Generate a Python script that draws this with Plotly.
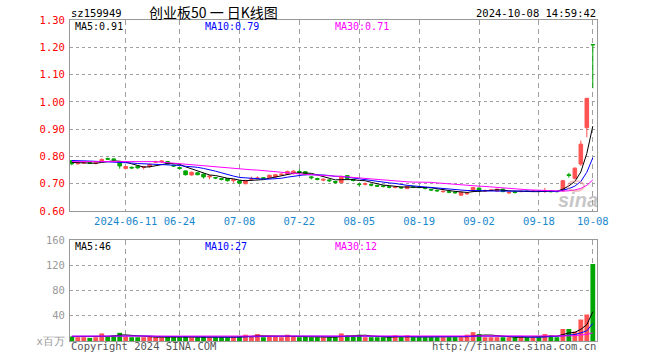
import plotly.graph_objects as go

# ---------------- data ----------------
dates = [
    "2024-05-28", "2024-05-29", "2024-05-30", "2024-05-31",
    "2024-06-03", "2024-06-04", "2024-06-05", "2024-06-06", "2024-06-07",
    "2024-06-11", "2024-06-12", "2024-06-13", "2024-06-14",
    "2024-06-17", "2024-06-18", "2024-06-19", "2024-06-20", "2024-06-21",
    "2024-06-24", "2024-06-25", "2024-06-26", "2024-06-27", "2024-06-28",
    "2024-07-01", "2024-07-02", "2024-07-03", "2024-07-04", "2024-07-05",
    "2024-07-08", "2024-07-09", "2024-07-10", "2024-07-11", "2024-07-12",
    "2024-07-15", "2024-07-16", "2024-07-17", "2024-07-18", "2024-07-19",
    "2024-07-22", "2024-07-23", "2024-07-24", "2024-07-25", "2024-07-26",
    "2024-07-29", "2024-07-30", "2024-07-31", "2024-08-01", "2024-08-02",
    "2024-08-05", "2024-08-06", "2024-08-07", "2024-08-08", "2024-08-09",
    "2024-08-12", "2024-08-13", "2024-08-14", "2024-08-15", "2024-08-16",
    "2024-08-19", "2024-08-20", "2024-08-21", "2024-08-22", "2024-08-23",
    "2024-08-26", "2024-08-27", "2024-08-28", "2024-08-29", "2024-08-30",
    "2024-09-02", "2024-09-03", "2024-09-04", "2024-09-05", "2024-09-06",
    "2024-09-09", "2024-09-10", "2024-09-11", "2024-09-12", "2024-09-13",
    "2024-09-18", "2024-09-19", "2024-09-20",
    "2024-09-23", "2024-09-24", "2024-09-25", "2024-09-26", "2024-09-27",
    "2024-09-30", "2024-10-08",
]

opens = [
    .784, .773, .776, .777, .774, .781, .792, .791, .782, .756,
    .760, .764, .760, .763, .779, .780, .781, .768, .759, .747,
    .732, .740, .735, .725, .723, .719, .719, .711, .710, .700,
    .716, .719, .722, .722, .725, .733, .735, .737, .745, .744,
    .725, .719, .713, .714, .708, .704, .730, .716, .699, .698,
    .697, .694, .692, .689, .686, .687, .682, .690, .688, .685,
    .679, .676, .671, .671, .669, .658, .663, .673, .684, .673,
    .675, .673, .680, .666, .670, .671, .673, .672, .673, .672,
    .673, .672, .674, .733, .720, .772, .905, 1.210,
]
highs = [
    .786, .777, .779, .779, .778, .793, .796, .793, .783, .765,
    .763, .766, .764, .773, .784, .786, .783, .770, .761, .748,
    .744, .742, .737, .731, .725, .721, .720, .717, .712, .714,
    .726, .727, .724, .733, .735, .737, .748, .750, .753, .745,
    .728, .722, .720, .716, .710, .729, .731, .717, .702, .705,
    .699, .696, .694, .691, .692, .689, .692, .691, .690, .687,
    .681, .678, .676, .673, .671, .670, .669, .687, .686, .679,
    .679, .682, .682, .671, .673, .674, .674, .675, .675, .685,
    .675, .674, .712, .740, .760, .858, 1.014, 1.210,
]
lows = [
    .768, .771, .773, .773, .771, .779, .788, .786, .755, .752,
    .754, .755, .752, .758, .776, .777, .770, .762, .751, .730,
    .730, .731, .719, .716, .717, .712, .708, .704, .700, .698,
    .713, .716, .716, .720, .722, .730, .733, .734, .735, .731,
    .716, .712, .709, .706, .700, .702, .716, .708, .690, .693,
    .690, .688, .686, .683, .683, .681, .680, .684, .683, .679,
    .673, .670, .667, .665, .663, .656, .659, .671, .671, .670,
    .672, .671, .669, .662, .664, .669, .670, .670, .670, .666,
    .668, .669, .672, .722, .716, .765, .870, 1.050,
]
closes = [
    .773, .775, .777, .775, .776, .789, .790, .788, .765, .763,
    .758, .758, .762, .771, .781, .783, .772, .765, .756, .733,
    .742, .733, .725, .728, .721, .716, .711, .714, .702, .712,
    .719, .721, .719, .731, .733, .735, .745, .746, .742, .733,
    .722, .716, .716, .711, .705, .727, .719, .712, .697, .700,
    .695, .691, .690, .687, .688, .685, .691, .687, .686, .683,
    .677, .674, .672, .669, .667, .669, .665, .686, .673, .675,
    .677, .680, .671, .668, .668, .672, .672, .673, .672, .675,
    .671, .671, .711, .730, .757, .845, 1.013, 1.209,
]
volumes = [  # millions
    7, 6, 6, 5, 6, 12, 7, 9, 13, 7,
    6, 6, 6, 7, 6, 6, 7, 6, 6, 7,
    6, 6, 7, 6, 6, 6, 6, 7, 7, 10,
    7, 11, 6, 7, 7, 6, 10, 7, 6, 7,
    6, 6, 6, 6, 6, 12, 9, 9, 10, 6,
    6, 6, 6, 6, 9, 6, 9, 6, 6, 6,
    6, 6, 6, 6, 6, 6, 10, 14, 11, 6,
    6, 6, 6, 6, 6, 6, 6, 6, 6, 11,
    9, 6, 19, 19, 15, 34, 42, 122,
]

ma5 = [
    .778, .777, .776, .775, .775, .778, .781, .784, .782, .779,
    .773, .766, .761, .762, .766, .771, .774, .774, .771, .762,
    .754, .746, .738, .732, .730, .725, .720, .718, .713, .711,
    .712, .714, .715, .720, .725, .728, .733, .738, .740, .740,
    .738, .732, .726, .720, .714, .715, .716, .715, .712, .711,
    .705, .699, .695, .693, .690, .688, .688, .688, .687, .686,
    .685, .681, .678, .675, .672, .670, .668, .671, .672, .674,
    .675, .678, .675, .674, .673, .672, .670, .671, .671, .673,
    .673, .672, .680, .692, .708, .743, .811, .911,
]
ma10 = [
    .785, .785, .784, .783, .782, .781, .781, .781, .780, .777,
    .776, .774, .773, .772, .773, .772, .770, .768, .767, .764,
    .763, .760, .756, .752, .746, .740, .733, .728, .723, .721,
    .719, .717, .717, .717, .718, .720, .724, .727, .730, .733,
    .733, .733, .732, .730, .727, .727, .724, .721, .716, .713,
    .710, .708, .705, .703, .701, .697, .694, .692, .690, .688,
    .687, .685, .683, .681, .679, .678, .675, .675, .674, .673,
    .673, .673, .673, .673, .674, .674, .674, .673, .673, .673,
    .673, .671, .676, .682, .691, .708, .742, .795,
]
ma30 = [
    .781, .781, .781, .781, .781, .782, .782, .782, .782, .782,
    .782, .782, .782, .782, .781, .779, .777, .776, .775, .773,
    .771, .769, .766, .763, .761, .759, .757, .755, .753, .752,
    .751, .750, .748, .745, .742, .740, .738, .736, .735, .734,
    .733, .732, .731, .729, .727, .726, .725, .723, .721, .719,
    .717, .715, .713, .711, .709, .708, .707, .706, .706, .705,
    .705, .703, .701, .699, .698, .696, .694, .693, .691, .690,
    .688, .687, .685, .683, .681, .679, .678, .677, .676, .675,
    .674, .673, .673, .674, .677, .683, .694, .714,
]
vol_ma5 = [
    7, 7, 7, 6, 6, 7.2, 7.2, 7.8, 9.4, 9.6,
    8.4, 8.2, 7.6, 6.4, 6.2, 6.2, 6.4, 6.4, 6.2, 6.4,
    6.4, 6.2, 6.4, 6.4, 6.2, 6.2, 6.2, 6.2, 6.4, 7.2,
    7.4, 8.4, 8.2, 8.2, 7.6, 7.4, 7.2, 7.4, 7.2, 7.2,
    7.2, 6.4, 6.2, 6.2, 6.0, 7.2, 7.8, 8.4, 9.2, 9.2,
    8.0, 7.4, 6.8, 6.0, 6.6, 6.6, 7.2, 7.2, 7.2, 6.6,
    6.6, 6.0, 6.0, 6.0, 6.0, 6.0, 6.8, 8.4, 9.4, 9.4,
    9.4, 8.6, 7.0, 6.0, 6.0, 6.0, 6.0, 6.0, 6.0, 7.0,
    7.6, 7.6, 10.2, 12.8, 13.6, 18.6, 25.8, 46.4,
]
vol_ma10 = [
    7.5, 7.5, 7.5, 7.5, 7.5, 7.5, 7.5, 7.5, 8.0, 8.4,
    7.8, 8.0, 8.5, 8.0, 7.3, 7.2, 7.0, 6.4, 6.2, 6.3,
    6.4, 6.3, 6.3, 6.4, 6.3, 6.3, 6.2, 6.3, 6.4, 6.7,
    6.8, 7.3, 7.2, 7.3, 7.4, 7.4, 7.8, 7.8, 7.7, 7.4,
    7.3, 6.8, 6.8, 6.7, 6.6, 7.2, 7.0, 7.3, 7.6, 7.6,
    7.6, 7.6, 7.6, 7.6, 7.9, 7.3, 7.0, 7.0, 6.6, 6.6,
    6.6, 6.6, 6.6, 6.6, 6.3, 6.3, 6.4, 7.2, 7.7, 7.7,
    7.7, 7.7, 7.7, 7.7, 7.7, 7.3, 6.5, 6.0, 6.0, 6.5,
    6.8, 6.8, 8.1, 9.4, 10.3, 12.7, 16.2, 27.9,
]
vol_ma30 = [
    7.8, 7.8, 7.8, 7.8, 7.8, 7.9, 7.9, 7.9, 8.0, 8.0,
    8.0, 8.0, 8.0, 7.9, 7.9, 7.9, 7.8, 7.8, 7.8, 7.7,
    7.7, 7.7, 7.6, 7.6, 7.6, 7.5, 7.5, 7.5, 7.5, 7.6,
    7.6, 7.6, 7.6, 7.6, 7.6, 7.5, 7.5, 7.5, 7.5, 7.5,
    7.4, 7.4, 7.4, 7.4, 7.4, 7.5, 7.5, 7.5, 7.6, 7.6,
    7.5, 7.5, 7.4, 7.4, 7.4, 7.4, 7.4, 7.4, 7.3, 7.3,
    7.2, 7.2, 7.2, 7.1, 7.1, 7.1, 7.2, 7.3, 7.4, 7.4,
    7.3, 7.3, 7.3, 7.2, 7.2, 7.2, 7.2, 7.2, 7.2, 7.3,
    7.3, 7.3, 7.7, 8.1, 8.4, 9.3, 10.5, 13.0,
]

tick_dates = ["2024-06-11", "2024-06-24", "2024-07-08", "2024-07-22", "2024-08-05",
              "2024-08-19", "2024-09-02", "2024-09-18", "2024-10-08"]
tick_labels = ["2024-06-11", "06-24", "07-08", "07-22", "08-05", "08-19", "09-02", "09-18", "10-08"]
price_ticks = [0.60, 0.70, 0.80, 0.90, 1.00, 1.10, 1.20, 1.30]
vol_ticks = [0, 40, 80, 120, 160]
vol_tick_labels = ["x百万", "40", "80", "120", "160"]

# ---------------- styling ----------------
RED = "#ff5252"
GREEN = "#00a600"
GRID = "#a0a0a0"
FRAME = "#999999"
MONO = "DejaVu Sans Mono"

x = list(range(len(dates)))
tickvals = [dates.index(d) for d in tick_dates]
vol_colors = [RED if c >= o else GREEN for o, c in zip(opens, closes)]

W, H = 660, 360
ML, MR, MT, MB = 70, 63, 20, 19
PW, PH = W - ML - MR, H - MT - MB


def px(xp):
    return (xp - ML) / PW


def py(yp):
    return (H - MB - yp) / PH


fig = go.Figure()

fig.add_trace(go.Candlestick(
    x=x, open=opens, high=highs, low=lows, close=closes,
    increasing=dict(line=dict(color=RED, width=1), fillcolor=RED),
    decreasing=dict(line=dict(color=GREEN, width=1), fillcolor=GREEN),
    whiskerwidth=0, xaxis="x", yaxis="y", name="K",
))
for vals, col in [(ma5, "#000000"), (ma10, "#0000ff"), (ma30, "#ff00ff")]:
    fig.add_trace(go.Scatter(x=x, y=vals, mode="lines", line=dict(color=col, width=1),
                             xaxis="x", yaxis="y", hoverinfo="skip"))

fig.add_trace(go.Bar(x=x, y=volumes, marker=dict(color=vol_colors, line=dict(width=0)),
                     width=0.8, xaxis="x2", yaxis="y2", name="Vol"))
for vals, col in [(vol_ma5, "#000000"), (vol_ma10, "#0000ff"), (vol_ma30, "#ff00ff")]:
    fig.add_trace(go.Scatter(x=x, y=vals, mode="lines", line=dict(color=col, width=1),
                             xaxis="x2", yaxis="y2", hoverinfo="skip"))

xr = [-0.3, len(dates) - 0.3]
common_x = dict(range=xr, showgrid=True, gridcolor=GRID, griddash="5px,4px", gridwidth=1,
                zeroline=False, showline=True, mirror=True, linecolor=FRAME, linewidth=1,
                tickvals=tickvals, ticks="")

annotations = []


def note(text, xp, yp, color="#000000", size=10, family=MONO, anchor="left"):
    annotations.append(dict(text=text, x=px(xp), y=py(yp), xref="paper", yref="paper",
                            xanchor=anchor, yanchor="middle", showarrow=False,
                            font=dict(color=color, size=size, family=family)))


note("sz159949", 69, 13, size=10.5)
note("创业板50 一 日K线图", 213, 12, size=14, family="Noto Sans CJK SC", anchor="center")
note("2024-10-08 14:59:42", 598, 13, size=10.5, anchor="right")
note("MA5:0.91", 73, 26, color="#000000")
note("MA10:0.79", 203, 26, color="#0000ff")
note("MA30:0.71", 333, 26, color="#ff00ff")
note("MA5:46", 73, 246, color="#000000")
note("MA10:27", 203, 246, color="#0000ff")
note("MA30:12", 333, 246, color="#ff00ff")
note("Copyright 2024 SINA.COM", 69, 346, color="#555555", size=10.5)
note("http://finance.sina.com.cn", 598, 346, color="#555555", size=10.5, anchor="right")
note("<i><b>sina</b></i>", 578, 200, color="rgba(150,150,150,0.55)", size=20,
     family="Liberation Sans", anchor="center")

fig.update_layout(
    width=W, height=H,
    margin=dict(l=ML, r=MR, t=MT, b=MB),
    paper_bgcolor="white", plot_bgcolor="white",
    showlegend=False, hovermode=False,
    boxgap=0.15,
    xaxis=dict(common_x, domain=[0, 1], anchor="y", ticktext=tick_labels,
               tickfont=dict(color="#1a88cc", size=10.5, family=MONO),
               rangeslider=dict(visible=False)),
    yaxis=dict(domain=[py(211), 1], range=[0.60, 1.30], tickvals=price_ticks,
               tickformat=".2f", tickfont=dict(color="#ff0000", size=10.5, family=MONO),
               showgrid=True, gridcolor=GRID, griddash="dot", zeroline=False,
               showline=True, mirror=True, linecolor=FRAME, linewidth=1,
               ticks="outside", ticklen=2, tickcolor="white"),
    xaxis2=dict(common_x, domain=[0, 1], anchor="y2", matches="x", showticklabels=False),
    yaxis2=dict(domain=[0, py(240)], range=[0, 160], tickvals=vol_ticks,
                ticktext=vol_tick_labels,
                tickfont=dict(color="#999999", size=10.5, family=MONO),
                showgrid=True, gridcolor=GRID, griddash="dot", zeroline=False,
                showline=True, mirror=True, linecolor=FRAME, linewidth=1,
                ticks="outside", ticklen=2, tickcolor="white"),
    annotations=annotations,
    shapes=[dict(type="circle", xref="paper", yref="paper",
                 x0=px(568), x1=px(584), y0=py(191), y1=py(181),
                 line=dict(color="rgba(230,120,120,0.45)", width=2))],
)

fig.write_html("out.html", config={"displayModeBar": False},
               post_script="document.body.style.margin='0';document.body.style.overflow='hidden';")
